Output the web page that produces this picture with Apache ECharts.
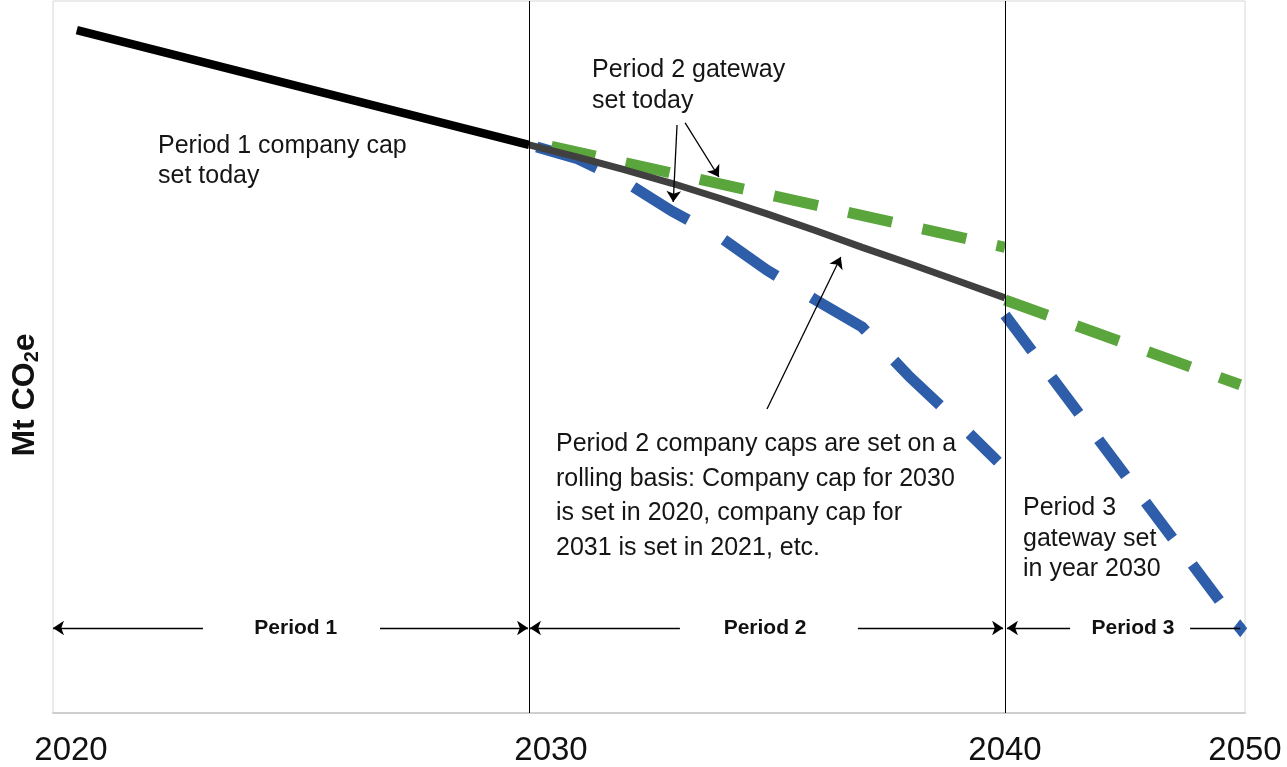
<!DOCTYPE html>
<html>
<head>
<meta charset="utf-8">
<script src="https://cdn.jsdelivr.net/npm/echarts@6/dist/echarts.min.js"></script>
<style>html,body{margin:0;padding:0;background:#fff}#c{width:1287px;height:767px}</style>
</head>
<body>
<div id="c"></div>
<script>
// ---- data (Mt CO2e, arbitrary index units) ----
const xTicks1 = [2020, 2030, 2040];
const xTicks2 = [2050];

const capP1Years = [2020.5, 2030];
const capP1Vals  = [95.9, 79.8];

const capP2Years = [2030, 2031, 2032, 2033, 2034, 2035, 2036, 2037, 2038, 2039, 2040];
const capP2Vals  = [79.8, 78.1, 76.3, 74.4, 72.3, 70.1, 67.8, 65.4, 63.1, 60.7, 58.3];

const gateP2Years = [2030, 2040];
const gateP2Vals  = [80.3, 65.4];

const rollP2Years = [2030, 2031, 2032, 2033, 2034, 2035, 2036, 2037, 2038, 2039, 2039.85];
const rollP2Vals  = [79.8, 77.9, 74.7, 70.5, 66.9, 62.2, 58.1, 54.2, 47.2, 40.9, 35.3];

const gateP3Years = [2040, 2049.8];
const gateP3Vals  = [58.0, 46.1];

const rollP3Years = [2040, 2049.8];
const rollP3Vals  = [55.9, 11.9];

const periodLevel = 11.94;
const periodNames = ['Period 1', 'Period 2', 'Period 3'];
const periodCenters = [2025.1, 2034.96, 2045.33];
// [start, gapStart, gapEnd, end] for each period arrow
const periodSpans = [
  [2020.0, 2023.15, 2026.87, 2029.98],
  [2030.02, 2033.17, 2036.91, 2039.96],
  [2040.08, 2042.71, 2047.71, 2049.8]
];

// annotation arrows [x1, y1, x2, y2]
const pointerArrows = [
  [2033.11, 82.58, 2033.03, 71.77],
  [2033.28, 82.87, 2033.99, 75.28],
  [2035.00, 42.70, 2036.55, 64.04]
];

const notes = [
  'Period 1 company cap\nset today',
  'Period 2 gateway\nset today',
  'Period 2 company caps are set on a\nrolling basis: Company cap for 2030\nis set in 2020, company cap for\n2031 is set in 2021, etc.',
  'Period 3\ngateway set\nin year 2030'
];

// ---- chart ----
const FONT = '"Liberation Sans", Arial, sans-serif';
const GREEN = '#5aa53c', BLUE = '#2e5eaa', GRAY = '#404040';
const zip = (a, b) => a.map((v, i) => [v, b[i]]);

const chart = echarts.init(document.getElementById('c'), null, {renderer: 'canvas'});

const yearRich = {
  a: {fontSize: 33, fontFamily: FONT, color: '#111', padding: [0, 0, 0, 36]},
  b: {fontSize: 33, fontFamily: FONT, color: '#111', padding: [0, 0, 0, 44]},
  c: {fontSize: 33, fontFamily: FONT, color: '#111'}
};

const arrowLines1 = [];
const arrowLines2 = [];
periodSpans.forEach((s, i) => {
  const target = i < 2 ? arrowLines1 : arrowLines2;
  target.push([{coord: [s[0], periodLevel], symbol: 'arrow'}, {coord: [s[1], periodLevel], symbol: 'none'}]);
  target.push([{coord: [s[2], periodLevel], symbol: 'none'}, {coord: [s[3], periodLevel], symbol: i < 2 ? 'arrow' : 'none'}]);
});
pointerArrows.forEach(a => {
  arrowLines1.push([{coord: [a[0], a[1]], symbol: 'none'}, {coord: [a[2], a[3]], symbol: 'arrow'}]);
});

const periodLabel = {
  show: true, position: 'inside', formatter: p => p.name,
  fontFamily: FONT, fontWeight: 'bold', fontSize: 21, color: '#111'
};

const option = {
  backgroundColor: '#fff',
  animation: false,
  grid: [
    {left: 53, top: 1, width: 1192, height: 712, show: true, borderColor: '#d6d6d6', borderWidth: 1},
    {left: 53, top: 1, width: 952, height: 712},
    {left: 1005, top: 1, width: 240, height: 712}
  ],
  xAxis: [
    {gridIndex: 0, type: 'value', min: 0, max: 1, show: false},
    {gridIndex: 1, type: 'value', min: xTicks1[0], max: xTicks1[2], interval: 10,
      axisLine: {show: true, lineStyle: {color: '#cfcfcf', width: 2}},
      axisTick: {show: false}, splitLine: {show: false},
      axisLabel: {margin: 21, rich: yearRich,
        formatter: v => v === 2020 ? '{a|' + v + '}' : v === 2030 ? '{b|' + v + '}' : '{c|' + v + '}'}},
    {gridIndex: 2, type: 'value', min: 2040, max: xTicks2[0], interval: 10,
      axisLine: {show: true, lineStyle: {color: '#cfcfcf', width: 2}},
      axisTick: {show: false}, splitLine: {show: false},
      axisLabel: {margin: 21, rich: yearRich, formatter: v => xTicks2.includes(v) ? '{c|' + v + '}' : ''}}
  ],
  yAxis: [
    {gridIndex: 0, type: 'value', min: 0, max: 1, show: false},
    {gridIndex: 1, type: 'value', min: 0, max: 100,
      axisLine: {show: false}, axisTick: {show: false}, axisLabel: {show: false}, splitLine: {show: false},
      name: '{m|Mt CO}{s|2}{m|e}', nameLocation: 'middle', nameRotate: 90, nameGap: 11,
      nameTextStyle: {padding: [0, 76, 0, 0],
        rich: {
          m: {fontFamily: FONT, fontWeight: 'bold', fontSize: 32, color: '#111'},
          s: {fontFamily: FONT, fontWeight: 'bold', fontSize: 20, color: '#111', padding: [14, 0, 0, 0]}
        }}},
    {gridIndex: 2, type: 'value', min: 0, max: 100, show: false}
  ],
  graphic: [
    {type: 'text', left: 158, top: 131, style: {text: notes[0], font: '25px ' + FONT, fill: '#151515', lineHeight: 30}},
    {type: 'text', left: 592, top: 55, style: {text: notes[1], font: '25px ' + FONT, fill: '#151515', lineHeight: 31}},
    {type: 'text', left: 556, top: 427, style: {text: notes[2], font: '25px ' + FONT, fill: '#151515', lineHeight: 34.5}},
    {type: 'text', left: 1023, top: 493, style: {text: notes[3], font: '25px ' + FONT, fill: '#151515', lineHeight: 30.5}}
  ],
  series: [
    {
      name: 'guides1', type: 'line', xAxisIndex: 1, yAxisIndex: 1, data: [], z: 1, silent: true,
      markLine: {
        silent: true, symbol: 'none', animation: false,
        lineStyle: {color: '#000', width: 1, type: 'solid'}, label: {show: false},
        data: [{xAxis: 2030}, {xAxis: 2040}]
      }
    },
    {
      name: 'annot1', type: 'line', xAxisIndex: 1, yAxisIndex: 1, data: [], z: 5, silent: true,
      markLine: {
        silent: true, animation: false, symbolSize: 11,
        lineStyle: {color: '#000', width: 1.3, type: 'solid'}, label: {show: false},
        data: arrowLines1
      },
      markPoint: {
        silent: true, animation: false, symbol: 'rect', symbolSize: 1,
        itemStyle: {color: 'rgba(0,0,0,0)'}, label: periodLabel,
        data: [0, 1].map(i => ({name: periodNames[i], coord: [periodCenters[i], periodLevel]}))
      }
    },
    {
      name: 'annot2', type: 'line', xAxisIndex: 2, yAxisIndex: 2, data: [], z: 5, silent: true,
      markLine: {
        silent: true, animation: false, symbolSize: 11,
        lineStyle: {color: '#000', width: 1.3, type: 'solid'}, label: {show: false},
        data: arrowLines2
      },
      markPoint: {
        silent: true, animation: false, symbol: 'rect', symbolSize: 1,
        itemStyle: {color: 'rgba(0,0,0,0)'}, label: periodLabel,
        data: [{name: periodNames[2], coord: [periodCenters[2], periodLevel]}]
      }
    },
    {
      name: 'Rolling company caps (P2)', type: 'line', xAxisIndex: 1, yAxisIndex: 1, z: 2,
      data: zip(rollP2Years, rollP2Vals), symbol: 'none',
      lineStyle: {color: BLUE, width: 11, type: [64, 41], dashOffset: 97, cap: 'butt', join: 'miter'}
    },
    {
      name: 'Period 2 gateway', type: 'line', xAxisIndex: 1, yAxisIndex: 1, z: 2,
      data: zip(gateP2Years, gateP2Vals), symbol: 'none',
      lineStyle: {color: GREEN, width: 11, type: [45, 31], dashOffset: 53, cap: 'butt'}
    },
    {
      name: 'Period 2 company cap', type: 'line', xAxisIndex: 1, yAxisIndex: 1, z: 3,
      data: zip(capP2Years, capP2Vals), symbol: 'none', smooth: false,
      lineStyle: {color: GRAY, width: 7, cap: 'butt'}
    },
    {
      name: 'Period 1 company cap', type: 'line', xAxisIndex: 1, yAxisIndex: 1, z: 3,
      data: zip(capP1Years, capP1Vals), symbol: 'none',
      lineStyle: {color: '#000', width: 8.5, cap: 'butt'}
    },
    {
      name: 'Period 3 gateway (green)', type: 'line', xAxisIndex: 2, yAxisIndex: 2, z: 2,
      data: zip(gateP3Years, gateP3Vals), symbol: 'none',
      lineStyle: {color: GREEN, width: 11, type: [45, 31], cap: 'butt'}
    },
    {
      name: 'Period 3 gateway (blue)', type: 'line', xAxisIndex: 2, yAxisIndex: 2, z: 2,
      data: zip(rollP3Years, rollP3Vals).map((p, i, arr) => i === arr.length - 1
        ? {value: p, symbol: 'diamond', symbolSize: [14, 18]} : {value: p, symbol: 'none'}),
      showSymbol: true, itemStyle: {color: BLUE},
      lineStyle: {color: BLUE, width: 11, type: [45, 33], cap: 'butt'}
    }
  ]
};
chart.setOption(option);
</script>
</body>
</html>
